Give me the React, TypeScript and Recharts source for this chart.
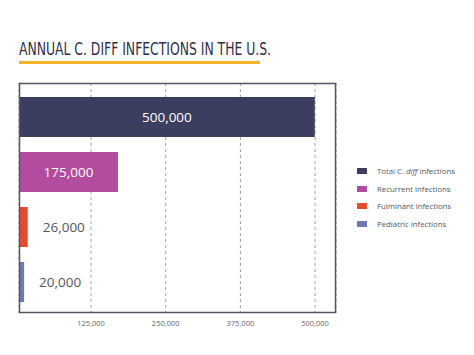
import * as React from 'react'
import { BarChart, Bar, Cell, XAxis, YAxis, CartesianGrid, LabelList } from 'recharts'

const categories = ['Total C. diff infections', 'Recurrent infections', 'Fulminant infections', 'Pediatric infections']
const infections = [500000, 175000, 26000, 20000]
const barColors = ['#3c3e5f', '#b34c9f', '#ea4a2c', '#7178b6']
const xTicks = [125000, 250000, 375000, 500000]

const data = categories.map((name, i) => ({ name, value: infections[i] }))

const fmt = (v: number) => v.toLocaleString('en-US')

const FONT = '"Open Sans", "DejaVu Sans", sans-serif'

// white value inside wide bars, grey value to the right of thin ones
const ValueLabel = (props: any) => {
  const { x, y, width, height, value } = props
  const inside = width > 60
  return (
    <text
      x={inside ? x + width / 2 : x + width + 15}
      y={y + height / 2}
      textAnchor={inside ? 'middle' : 'start'}
      dominantBaseline="central"
      fontFamily={FONT}
      fontSize={13.5}
      fill={inside ? '#ffffff' : '#555560'}
    >
      {fmt(value)}
    </text>
  )
}

const LegendLabel = ({ name }: { name: string }) => {
  if (name.startsWith('Total')) {
    return (
      <span>
        Total C. <i>diff</i> infections
      </span>
    )
  }
  return <span>{name}</span>
}

export default function App() {
  return (
    <div style={{ position: 'absolute', left: 0, top: 0, width: 474, height: 355, background: '#fff' }}>
      <svg width={474} height={355} style={{ position: 'absolute', left: 0, top: 0 }}>
        <text
          x={19}
          y={55}
          fontFamily='"Liberation Sans Narrow", "DejaVu Sans Condensed", "Roboto", sans-serif'
          fontSize={18.5}
          fill="#2e2f4b"
          textLength={252}
          lengthAdjust="spacingAndGlyphs"
        >
          ANNUAL C. DIFF INFECTIONS IN THE U.S.
        </text>
        <rect x={19} y={61} width={241} height={3} fill="#f2b428" />
      </svg>
      <div style={{ position: 'absolute', left: 0, top: 0 }}>
        <BarChart
          width={474}
          height={355}
          data={data}
          layout="vertical"
          margin={{ top: 83, right: 138, bottom: 22, left: 19 }}
        >
          <CartesianGrid horizontal={false} stroke="#a0a0a6" strokeDasharray="3 3" />
          {/* labelled axis that carries the dashed grid */}
          <XAxis
            type="number"
            domain={[4500, 535000]}
            allowDataOverflow
            ticks={xTicks}
            tickFormatter={fmt}
            axisLine={false}
            tickLine={false}
            height={20}
            tick={{ fontSize: 7.5, fill: '#666670', fontFamily: FONT }}
          />
          {/* bar scale, its baseline sits behind the left frame */}
          <XAxis xAxisId="bars" type="number" domain={[11550, 535000]} allowDataOverflow hide />
          <YAxis type="category" dataKey="name" hide padding={{ top: 6, bottom: 4 }} />
          <Bar dataKey="value" xAxisId="bars" barSize={40} isAnimationActive={false}>
            {data.map((d, i) => (
              <Cell key={d.name} fill={barColors[i]} />
            ))}
            <LabelList dataKey="value" content={ValueLabel} />
          </Bar>
        </BarChart>
      </div>
      <svg width={474} height={355} style={{ position: 'absolute', left: 0, top: 0, pointerEvents: 'none' }}>
        <rect x={19.5} y={83.5} width={316} height={229} fill="none" stroke="#55565f" strokeWidth={1.5} />
      </svg>
      <div style={{ position: 'absolute', left: 357, top: 162, fontFamily: FONT, fontSize: 7.8, color: '#55565f' }}>
        {categories.map((name, i) => (
          <div key={name} style={{ display: 'flex', alignItems: 'center', height: 17.7 }}>
            <span style={{ display: 'inline-block', width: 10, height: 6, background: barColors[i], marginRight: 10 }} />
            <LegendLabel name={name} />
          </div>
        ))}
      </div>
    </div>
  )
}
